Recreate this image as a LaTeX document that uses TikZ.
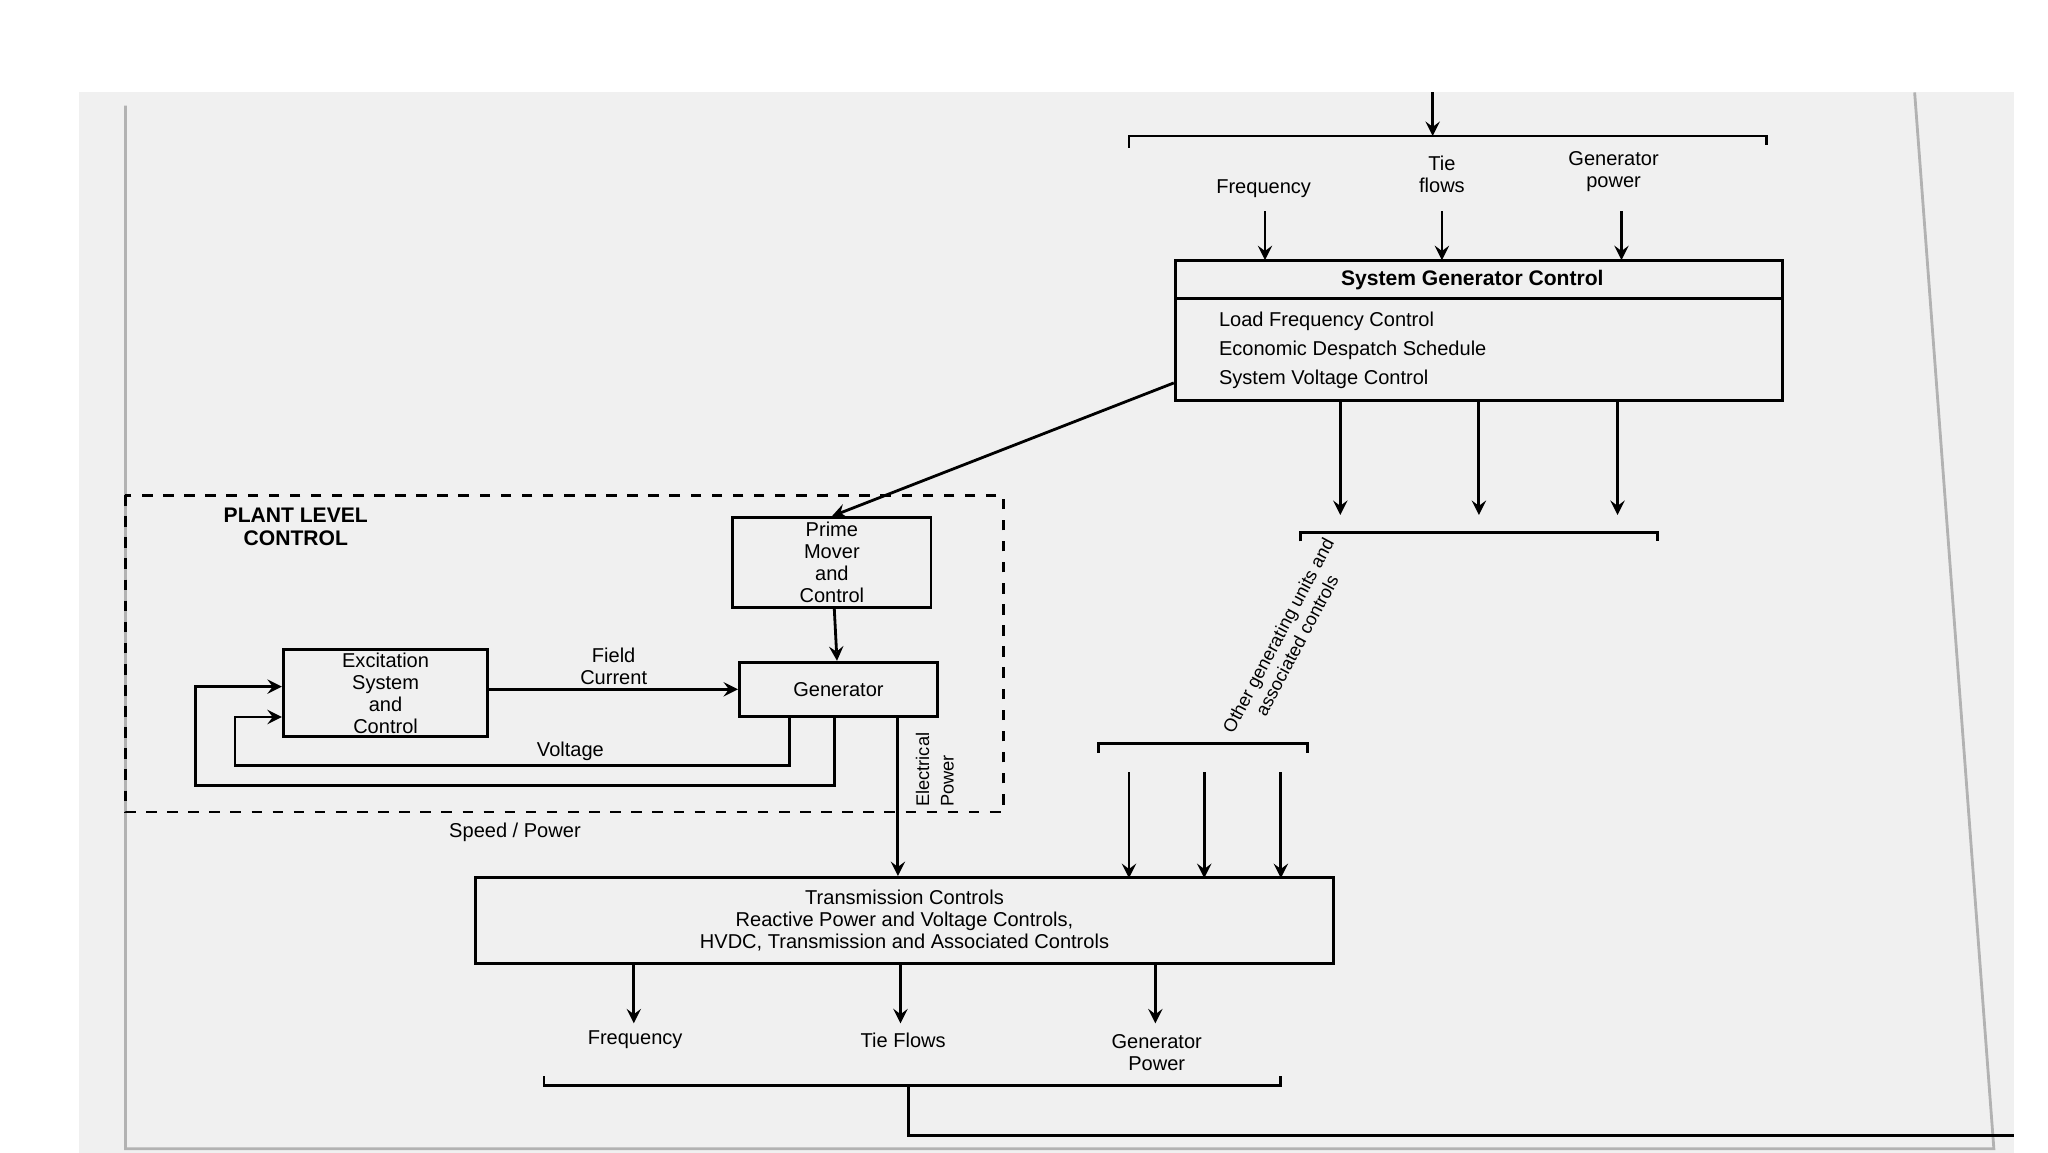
\documentclass[tikz,border=0pt]{standalone}
\usepackage{fontspec}
\setmainfont{Liberation Sans}
\usetikzlibrary{positioning}
\newcommand\pxu{0.0132cm}
\begin{document}
\begin{tikzpicture}[>=stealth, x=\pxu, y=-\pxu, font=\fontsize{5.7}{6.3}\selectfont,
  box/.style={draw, thick, align=center, inner sep=0pt},
  lbl/.style={align=center, inner sep=1pt}]
\useasboundingbox (0,0) rectangle (1551,873);
% Seite
\fill[gray!12] (60,70) rectangle (1525,880);
\draw[gray!60, thick] (95,80) -- (95,870) -- (1510,870) -- (1450,70);

% Knoten
\node[box, minimum width=460*\pxu, minimum height=106*\pxu] (sgc) at (1120,250) {};
\node[font=\fontsize{6}{7}\selectfont\bfseries] (sgct) at (1115,212) {System Generator Control};
\draw[thick] (890,226) -- (1350,226);
\node[lbl, align=left, anchor=north west] (sgcl) at (920,233)
  {Load Frequency Control\\[2pt]Economic Despatch Schedule\\[2pt]System Voltage Control};

\node[box, minimum width=650*\pxu, minimum height=65*\pxu] (tc) at (685,697)
  {Transmission Controls\\Reactive Power and Voltage Controls,\\HVDC, Transmission and Associated Controls};

\node[box, minimum width=150*\pxu, minimum height=68*\pxu] (pm) at (630,426) {Prime\\Mover\\and\\Control};
\node[box, minimum width=150*\pxu, minimum height=41*\pxu] (gen) at (635,522) {Generator};
\node[box, minimum width=155*\pxu, minimum height=66*\pxu] (exc) at (292,525) {Excitation\\System\\and\\Control};

\draw[dashed, thick] (95,375) rectangle (760,615);
\node[lbl, font=\fontsize{6}{6.4}\selectfont\bfseries] (plc) at (224,399) {PLANT LEVEL\\CONTROL};

% Eingaenge oben
\coordinate (top) at (1085,70);
\coordinate (topb) at (1085,103);
\draw[thick] (855,112) -- (855,103) -- (1338,103) -- (1338,110);
\draw[->, thick] (top) -- (topb);
\node[lbl] (fin) at (957,143) {Frequency};
\node[lbl] (tin) at (1092,132) {Tie\\flows};
\node[lbl] (gin) at (1222,130) {Generator\\power};
\foreach \x in {958,1092,1228}
  \draw[->, thick] (\x,160) -- (\x,197);

% Ausgaenge SGC
\foreach \x in {1015,1120,1225}
  \draw[->, thick] (\x,303) -- (\x,390);
\draw[thick] (985,410) -- (985,403) -- (1255,403) -- (1255,410);
\node[lbl, rotate=62, font=\fontsize{5.2}{6}\selectfont] (oth) at (975,485)
  {Other generating units and\\associated controls};
\draw[thick] (832,570) -- (832,563) -- (990,563) -- (990,570);
\foreach \x in {855,912,970}
  \draw[->, thick] (\x,585) -- (\x,665);

% SGC -> Prime Mover
\draw[->, thick] (sgc.west |- 0,290) -- (pm.north);

% Anlage
\draw[->, thick] (pm) -- (gen);
\draw[->, thick] (exc.east |- 0,522) -- (gen.west |- 0,522)
  node[midway, above, lbl] {Field\\Current};
\draw[->, thick] (gen.south -| 598,0) -- (598,580) -- (178,580) -- (178,543) -- (exc.west |- 0,543);
\node[lbl] (volt) at (432,569) {Voltage};
\draw[->, thick] (gen.south -| 632,0) -- (632,595) -- (148,595) -- (148,520) -- (exc.west |- 0,520);
\node[lbl] (spd) at (390,630) {Speed / Power};
\draw[->, thick] (gen.south -| 680,0) -- (tc.north -| 680,0);
\node[lbl, rotate=90, align=left, font=\fontsize{5.2}{7}\selectfont] (ep) at (708,583) {Electrical\\Power};

% Ausgaenge unten
\foreach \x in {480,682,875}
  \draw[->, thick] (\x,730) -- (\x,775);
\node[lbl] (fo) at (481,787) {Frequency};
\node[lbl] (to) at (684,788) {Tie Flows};
\node[lbl] (go) at (876,797) {Generator\\Power};
\draw[thick] (412,815) -- (412,822) -- (970,822) -- (970,815);
\draw[thick] (688,822) -- (688,860) -- (1525,860);

\end{tikzpicture}
\end{document}
